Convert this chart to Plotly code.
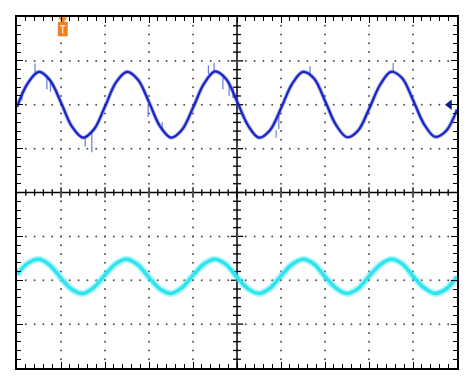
import plotly.graph_objects as go

# ---- data (in screen divisions: x 0..10, y -4..4) ----
t = [i * 0.25 for i in range(41)]
ch1 = [1.95, 2.50, 2.75, 2.56, 2.05, 1.50, 1.25, 1.44,
       1.96, 2.51, 2.75, 2.57, 2.06, 1.51, 1.25, 1.43,
       1.93, 2.48, 2.76, 2.59, 2.08, 1.53, 1.25, 1.42,
       1.92, 2.47, 2.75, 2.60, 2.09, 1.54, 1.26, 1.41,
       1.90, 2.45, 2.75, 2.61, 2.11, 1.56, 1.27, 1.40,
       1.89]
ch2 = [-1.87, -1.61, -1.52, -1.66, -1.95, -2.21, -2.30, -2.16,
       -1.88, -1.62, -1.52, -1.65, -1.94, -2.20, -2.30, -2.17,
       -1.89, -1.63, -1.52, -1.64, -1.93, -2.19, -2.30, -2.18,
       -1.90, -1.64, -1.52, -1.63, -1.92, -2.18, -2.30, -2.19,
       -1.91, -1.65, -1.52, -1.62, -1.91, -2.17, -2.30, -2.20,
       -1.92]
# noise spikes on channel 1: x, base, tip
spike_x = [0.11, 0.41, 0.68, 0.76, 1.70, 2.98, 4.35, 4.48, 4.68, 4.82, 4.91, 5.89, 5.95, 6.66, 8.55, 1.55, 3.30]
spike_y0 = [2.30, 2.72, 2.62, 2.55, 1.40, 2.00, 2.70, 2.75, 2.62, 2.50, 2.40, 1.42, 1.45, 2.70, 2.75, 1.27, 1.60]
spike_y1 = [2.10, 2.94, 2.35, 2.30, 0.92, 1.72, 2.90, 2.95, 2.35, 2.20, 2.15, 1.25, 1.80, 2.88, 2.95, 1.05, 1.40]

trig_x = 1.04
ch1_level = 2.0

fig = go.Figure()

# grid dots
gx, gy = [], []
for k in range(1, 10):
    if k == 5:
        continue
    for j in range(1, 40):
        gx.append(k)
        gy.append(-4 + j * 0.2)
for k in range(-3, 4):
    if k == 0:
        continue
    for j in range(1, 50):
        gx.append(j * 0.2)
        gy.append(k)
fig.add_trace(go.Scatter(x=gx, y=gy, mode="markers",
                         marker=dict(size=2, color="#555555"),
                         hoverinfo="skip", showlegend=False))

# channel 2 (cyan) - fuzzy band
fig.add_trace(go.Scatter(x=t, y=ch2, mode="lines", line=dict(color="rgba(60,232,242,0.4)", width=7, shape="spline"),
                         hoverinfo="skip", showlegend=False))
fig.add_trace(go.Scatter(x=t, y=ch2, mode="lines", line=dict(color="#2EE4EE", width=3.5, shape="spline"),
                         showlegend=False))

# channel 1 (blue)
sx, sy = [], []
for a, b, c in zip(spike_x, spike_y0, spike_y1):
    sx += [a, a, None]
    sy += [b, c, None]
fig.add_trace(go.Scatter(x=sx, y=sy, mode="lines", line=dict(color="rgba(70,90,215,0.8)", width=1.2),
                         hoverinfo="skip", showlegend=False))
fig.add_trace(go.Scatter(x=t, y=ch1, mode="lines", line=dict(color="rgba(40,60,210,0.4)", width=4, shape="spline"),
                         hoverinfo="skip", showlegend=False))
fig.add_trace(go.Scatter(x=t, y=ch1, mode="lines", line=dict(color="#1A24C4", width=2.2, shape="spline"),
                         showlegend=False))

# channel 1 level marker
fig.add_trace(go.Scatter(x=[9.83], y=[ch1_level], mode="markers",
                         marker=dict(symbol="triangle-left", size=9, color="#0C1A8C"),
                         showlegend=False, cliponaxis=False))
# trigger marker
fig.add_trace(go.Scatter(x=[trig_x], y=[3.95], mode="markers",
                         marker=dict(symbol="triangle-down", size=8, color="#F07F1E"),
                         showlegend=False, cliponaxis=False))

shapes = []
# center axes
shapes.append(dict(type="line", x0=0, x1=10, y0=0, y1=0, line=dict(color="black", width=1.5), layer="below"))
shapes.append(dict(type="line", x0=5, x1=5, y0=-4, y1=4, line=dict(color="black", width=1.5), layer="below"))
for j in range(1, 50):
    xv = j * 0.2
    h = 0.12 if j % 5 == 0 else 0.075
    shapes.append(dict(type="line", x0=xv, x1=xv, y0=-h, y1=h, line=dict(color="black", width=1.3), layer="below"))
for j in range(1, 40):
    yv = -4 + j * 0.2
    h = 0.14 if j % 5 == 0 else 0.09
    shapes.append(dict(type="line", x0=5 - h, x1=5 + h, y0=yv, y1=yv, line=dict(color="black", width=1.3), layer="below"))

# trigger box
shapes.append(dict(type="rect", x0=trig_x - 0.1, x1=trig_x + 0.1, y0=3.57, y1=3.88,
                   fillcolor="#F07F1E", line=dict(color="#F07F1E", width=1)))
shapes.append(dict(type="line", x0=trig_x - 0.06, x1=trig_x + 0.06, y0=3.80, y1=3.80,
                   line=dict(color="white", width=1)))
shapes.append(dict(type="line", x0=trig_x, x1=trig_x, y0=3.80, y1=3.62,
                   line=dict(color="white", width=1)))

fig.update_layout(
    width=474, height=386,
    margin=dict(l=17, r=17, t=17, b=18),
    paper_bgcolor="white", plot_bgcolor="white",
    shapes=shapes,
    showlegend=False,
    xaxis=dict(range=[0, 10], showgrid=False, zeroline=False, showticklabels=False,
               showline=True, linecolor="black", linewidth=2, mirror="ticks",
               ticks="inside", tick0=0, dtick=1, ticklen=6, tickwidth=1.3, tickcolor="black",
               minor=dict(ticks="inside", dtick=0.2, ticklen=4, tickwidth=1.2, tickcolor="black", showgrid=False),
               fixedrange=True),
    yaxis=dict(range=[-4, 4], showgrid=False, zeroline=False, showticklabels=False,
               showline=True, linecolor="black", linewidth=2, mirror="ticks",
               ticks="inside", tick0=0, dtick=1, ticklen=6, tickwidth=1.3, tickcolor="black",
               minor=dict(ticks="inside", dtick=0.2, ticklen=4, tickwidth=1.2, tickcolor="black", showgrid=False),
               fixedrange=True),
)

fig.write_html("out.html")
